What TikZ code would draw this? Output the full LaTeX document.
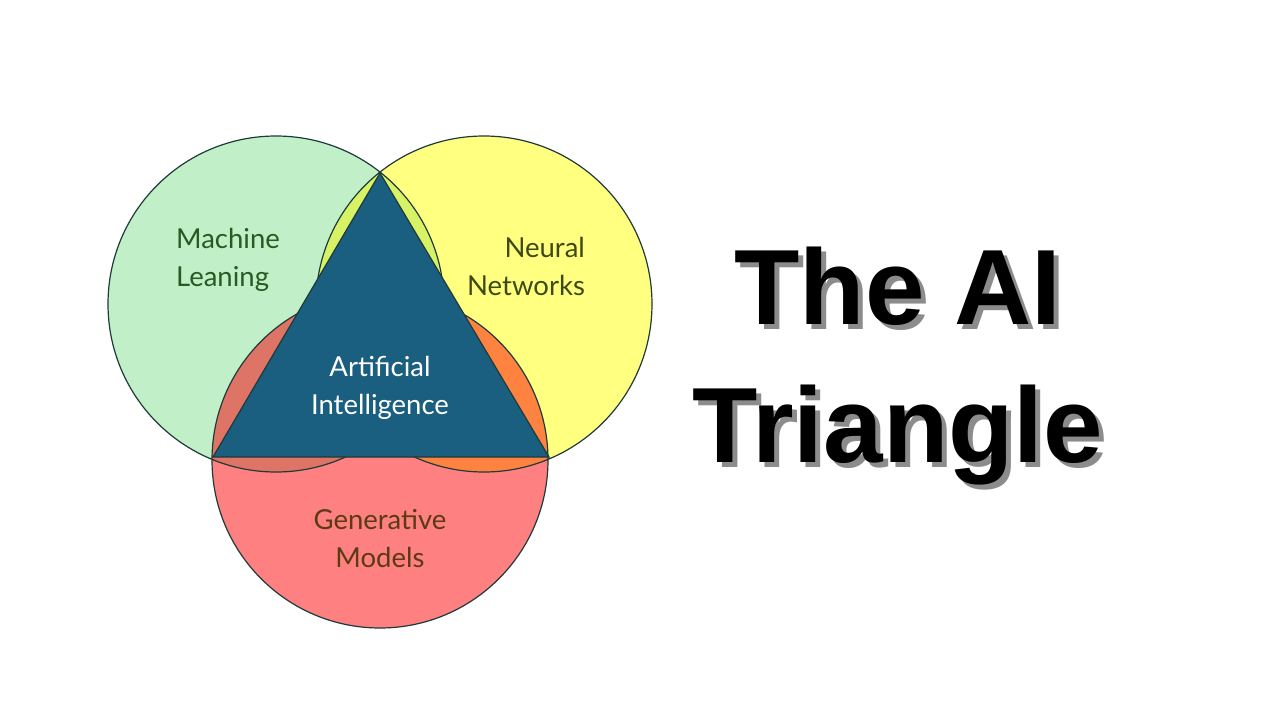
\documentclass[tikz,border=0pt]{standalone}
\usepackage{fontspec}
\setmainfont{Lato}
\newfontfamily\titlefont{Liberation Sans}
\definecolor{mlgreen}{HTML}{C1F0C8}
\definecolor{nnyellow}{HTML}{FFFF80}
\definecolor{gmred}{HTML}{FF8080}
\definecolor{gyover}{HTML}{D8F266}
\definecolor{grover}{HTML}{DE7466}
\definecolor{yrover}{HTML}{FF8340}
\definecolor{aiblue}{HTML}{1A5E80}
\definecolor{rim}{HTML}{1E3A3A}
\definecolor{mlink}{HTML}{2A5A22}
\definecolor{nnink}{HTML}{3E4A12}
\definecolor{gmink}{HTML}{5C3A14}
\begin{document}
\begin{tikzpicture}[x=1pt, y=-1pt, line width=1.2pt,
	every node/.style = {align=center, font=\fontsize{27.5}{38}\selectfont}]
	\tikzstyle{ring} = [draw=rim]
	\tikzstyle{ttl} = [font=\titlefont\bfseries\fontsize{107}{138}\selectfont]
	\useasboundingbox (0,0) rectangle (1280,720);
	\fill[white] (0,0) rectangle (1280,720);
	\coordinate (ml) at (276,304);
	\coordinate (nn) at (484,304);
	\coordinate (gm) at (380,460);
	\fill[mlgreen] (ml) circle (168);
	\fill[nnyellow] (nn) circle (168);
	\fill[gmred] (gm) circle (168);
	\begin{scope}
		\clip (ml) circle (168);
		\fill[gyover] (nn) circle (168);
		\fill[grover] (gm) circle (168);
	\end{scope}
	\begin{scope}
		\clip (nn) circle (168);
		\fill[yrover] (gm) circle (168);
	\end{scope}
	\draw[ring] (ml) circle (168) (nn) circle (168) (gm) circle (168);
	\coordinate (apex) at (380,173);
	\coordinate (left) at (213,457);
	\coordinate (right) at (549,457);
	\draw[rim, fill=aiblue] (apex) -- (left) -- (right) -- cycle;
	\node[text=mlink, align=left] (mltext) at (228,260) {Machine\\Leaning};
	\node[text=nnink, align=right] (nntext) at (526,266) {Neural\\Networks};
	\node[text=white] (aitext) at (380,388) {Artificial\\Intelligence};
	\node[text=gmink] (gmtext) at (380,539) {Generative\\Models};
	% title with shadow
	\node[ttl, text=black!45] (shadow) at (903,371) {The AI\\Triangle};
	\node[ttl, text=black] (title) at (898,366) {The AI\\Triangle};
\end{tikzpicture}
\end{document}
